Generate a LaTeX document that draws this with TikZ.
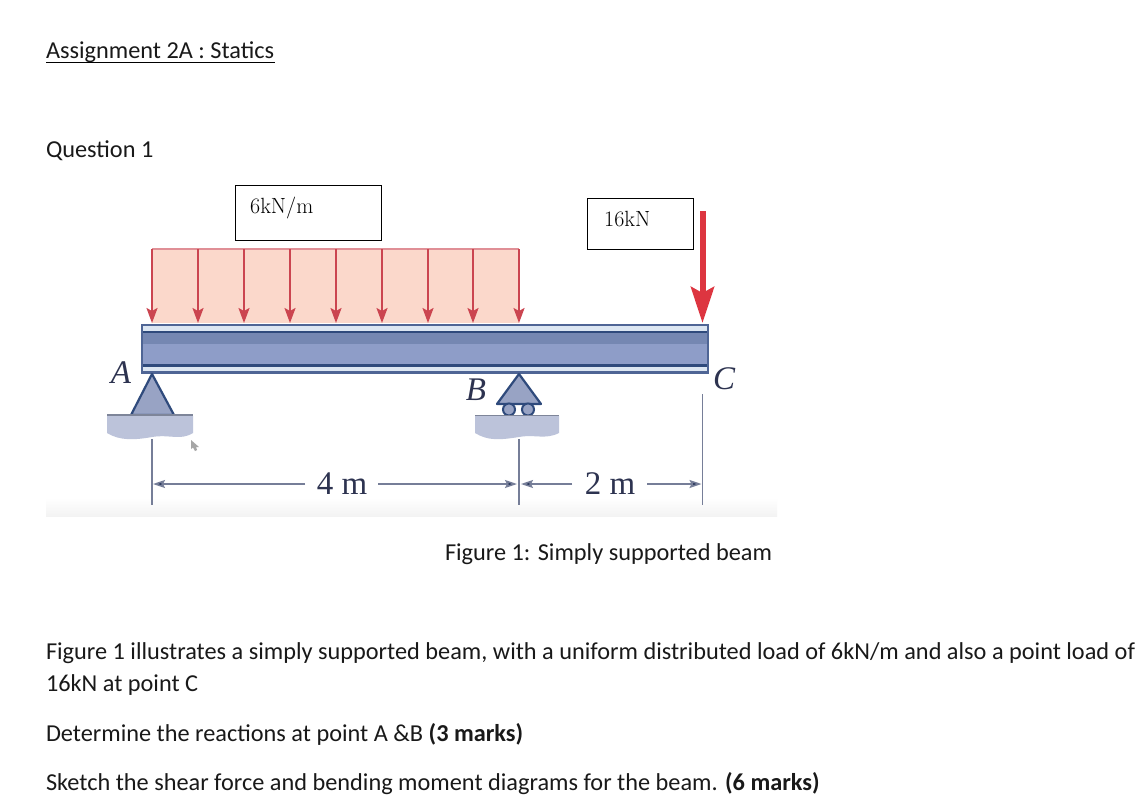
\documentclass[tikz,border=0pt]{standalone}
\usepackage{fontspec}
\setmainfont{Carlito}
\newfontfamily\figserif{Liberation Serif}
\newfontfamily\rmlm{Latin Modern Roman}
\usetikzlibrary{arrows.meta}
\definecolor{loadfill}{HTML}{FBD8CB}
\definecolor{loadred}{HTML}{CB4550}
\definecolor{tipred}{HTML}{DD3540}
\definecolor{steeldark}{HTML}{2F4A7C}
\definecolor{steelout}{HTML}{4F6595}
\definecolor{steelband}{HTML}{7587B2}
\definecolor{steelweb}{HTML}{8E9DC8}
\definecolor{flange}{HTML}{DCE6F2}
\definecolor{suppfill}{HTML}{98A3C4}
\definecolor{groundfill}{HTML}{BCC3DA}
\definecolor{groundline}{HTML}{7E8599}
\definecolor{dimgray}{HTML}{767E98}
\definecolor{dimdark}{HTML}{1F2F55}
\definecolor{figtext}{HTML}{2D3350}
\definecolor{paperedge}{HTML}{F3F3F3}
\tikzset{
  x=1pt,y=-1pt,
  body/.style={anchor=base west,inner sep=0pt,outer sep=0pt,font=\fontsize{24.3}{28}\selectfont,text=black!90},
  labelbox/.style={draw=black,line width=1pt,fill=white,inner sep=0pt,anchor=north west},
  boxtext/.style={anchor=base west,inner sep=0pt,font=\rmlm\fontsize{22}{26}\selectfont},
  udl/.style={draw=loadred,line width=2.1pt,-{Stealth[length=15pt,width=11pt,inset=3pt,fill=loadred]}},
  pointload/.style={draw=tipred,line width=6pt,-{Stealth[length=36pt,width=23pt,inset=6pt,fill=tipred]}},
  ext/.style={draw=dimgray,line width=1.8pt},
  dimline/.style={draw=dimgray,line width=1.6pt,-{Stealth[length=12pt,width=8pt,inset=2pt,fill=dimdark]}},
  dimtext/.style={inner sep=0pt,font=\figserif\fontsize{33}{37}\selectfont,text=figtext},
  pointname/.style={inner sep=0pt,font=\figserif\itshape\fontsize{33}{37}\selectfont,text=figtext},
  tri/.style={draw=steeldark,line width=2.2pt,fill=suppfill,line join=round},
  ground/.style={fill=groundfill},
  groundtop/.style={draw=groundline,line width=1.8pt},
  wheel/.style={circle,draw=steeldark,line width=2pt,fill=suppfill,minimum size=12pt,inner sep=0pt}
}
\begin{document}
\begin{tikzpicture}
\useasboundingbox (0,0) rectangle (1147,808);
\fill[white] (0,0) rectangle (1147,808);
% faint edge of the pasted figure
\shade[top color=white,bottom color=paperedge] (46,498) rectangle (777,516);

% texts
\node[body] (title) at (46,59) {Assignment 2A : Statics};
\draw[line width=1pt] (46,62) -- (275,62);
\node[body] (q1) at (46,157.5) {Question 1};
\node[body] (cap) at (445,560) {Figure 1: Simply supported beam};
\node[body] (p1) at (46,659.5) {Figure 1 illustrates a simply supported beam, with a uniform distributed load of 6kN/m and also a point load of};
\node[body] (p2) at (46,691.5) {16kN at point C};
\node[body] (p3) at (46,741.5) {Determine the reactions at point A \&B \textbf{(3 marks)}};
\node[body] (p4) at (46,790.5) {Sketch the shear force and bending moment diagrams for the beam. \textbf{(6 marks)}};

% label boxes
\node[labelbox,minimum width=146pt,minimum height=55pt] (box6) at (235,185) {};
\node[boxtext] (t6) at (250,213) {6kN/m};
\node[labelbox,minimum width=105.5pt,minimum height=51pt] (box16) at (587,198) {};
\node[boxtext] (t16) at (604,226.5) {16kN};

% distributed load
\fill[loadfill] (152,249) rectangle (519,323);
\draw[draw=loadred!60,line width=2pt] (152,249) -- (519,249);
\foreach \i/\xx in {1/152,2/198,3/244,4/290,5/336,6/382,7/428,8/473,9/519}{
  \coordinate (ua\i) at (\xx,249);
  \coordinate (ub\i) at (\xx,323);
  \draw[udl] (ua\i) -- (ub\i);
}

% point load
\coordinate (pa) at (702.5,211);
\coordinate (pb) at (702.5,323);
\draw[pointload] (pa) -- (pb);

% beam
\fill[steelout] (141,323.5) rectangle (709,373.5);
\fill[flange] (143,326) rectangle (707,330.5);
\fill[flange] (143,366.5) rectangle (707,371);
\fill[steeldark] (143,330.5) rectangle (707,366.5);
\fill[steelweb] (143,333) rectangle (707,364);
\fill[steelband] (143,333) rectangle (707,344);

% support A
\draw[tri] (152,374) -- (131,415) -- (174,415) -- cycle;
\fill[ground] (107,416) -- (193,416) -- (193,433) .. controls (180,441) and (170,434) .. (152,437) .. controls (135,440) and (120,441) .. (107,433) -- cycle;
\draw[groundtop] (107,415) -- (193,415);

% support B
\draw[tri] (519,374) -- (497,404) -- (541,404) -- cycle;
\node[wheel] (w1) at (509,409.5) {};
\node[wheel] (w2) at (528,409.5) {};
\fill[ground] (475,416) -- (559,416) -- (559,433) .. controls (545,440) and (535,434) .. (519,437) .. controls (500,440) and (488,441) .. (475,433) -- cycle;
\draw[groundtop] (475,415.5) -- (559,415.5);

% cursor
\fill[gray!70] (191,440) -- (191,449) -- (193,447.5) -- (195,451) -- (197,450) -- (196,447) -- (199,447) -- cycle;

% dimension extension lines
\coordinate (e1a) at (152,439); \coordinate (e1b) at (152,505);
\coordinate (e2a) at (519,439); \coordinate (e2b) at (519,505);
\coordinate (e3a) at (702.5,394); \coordinate (e3b) at (702.5,505);
\draw[ext] (e1a) -- (e1b);
\draw[ext] (e2a) -- (e2b);
\draw[ext] (e3a) -- (e3b);

% dimensions
\node[dimtext] (d4) at (342,484) {4 m};
\node[dimtext] (d2) at (610,484) {2 m};
\coordinate (dA) at (153,484);
\coordinate (dBl) at (517,484);
\coordinate (dBr) at (521,484);
\coordinate (dC) at (701.5,484);
\coordinate (l4a) at (305,484); \coordinate (l4b) at (378,484);
\coordinate (l2a) at (572,484); \coordinate (l2b) at (647,484);
\draw[dimline] (l4a) -- (dA);
\draw[dimline] (l4b) -- (dBl);
\draw[dimline] (l2a) -- (dBr);
\draw[dimline] (l2b) -- (dC);

% point names
\node[pointname] (A) at (121,373) {A};
\node[pointname] (B) at (476,390) {B};
\node[pointname] (C) at (724,379) {C};
\end{tikzpicture}
\end{document}
